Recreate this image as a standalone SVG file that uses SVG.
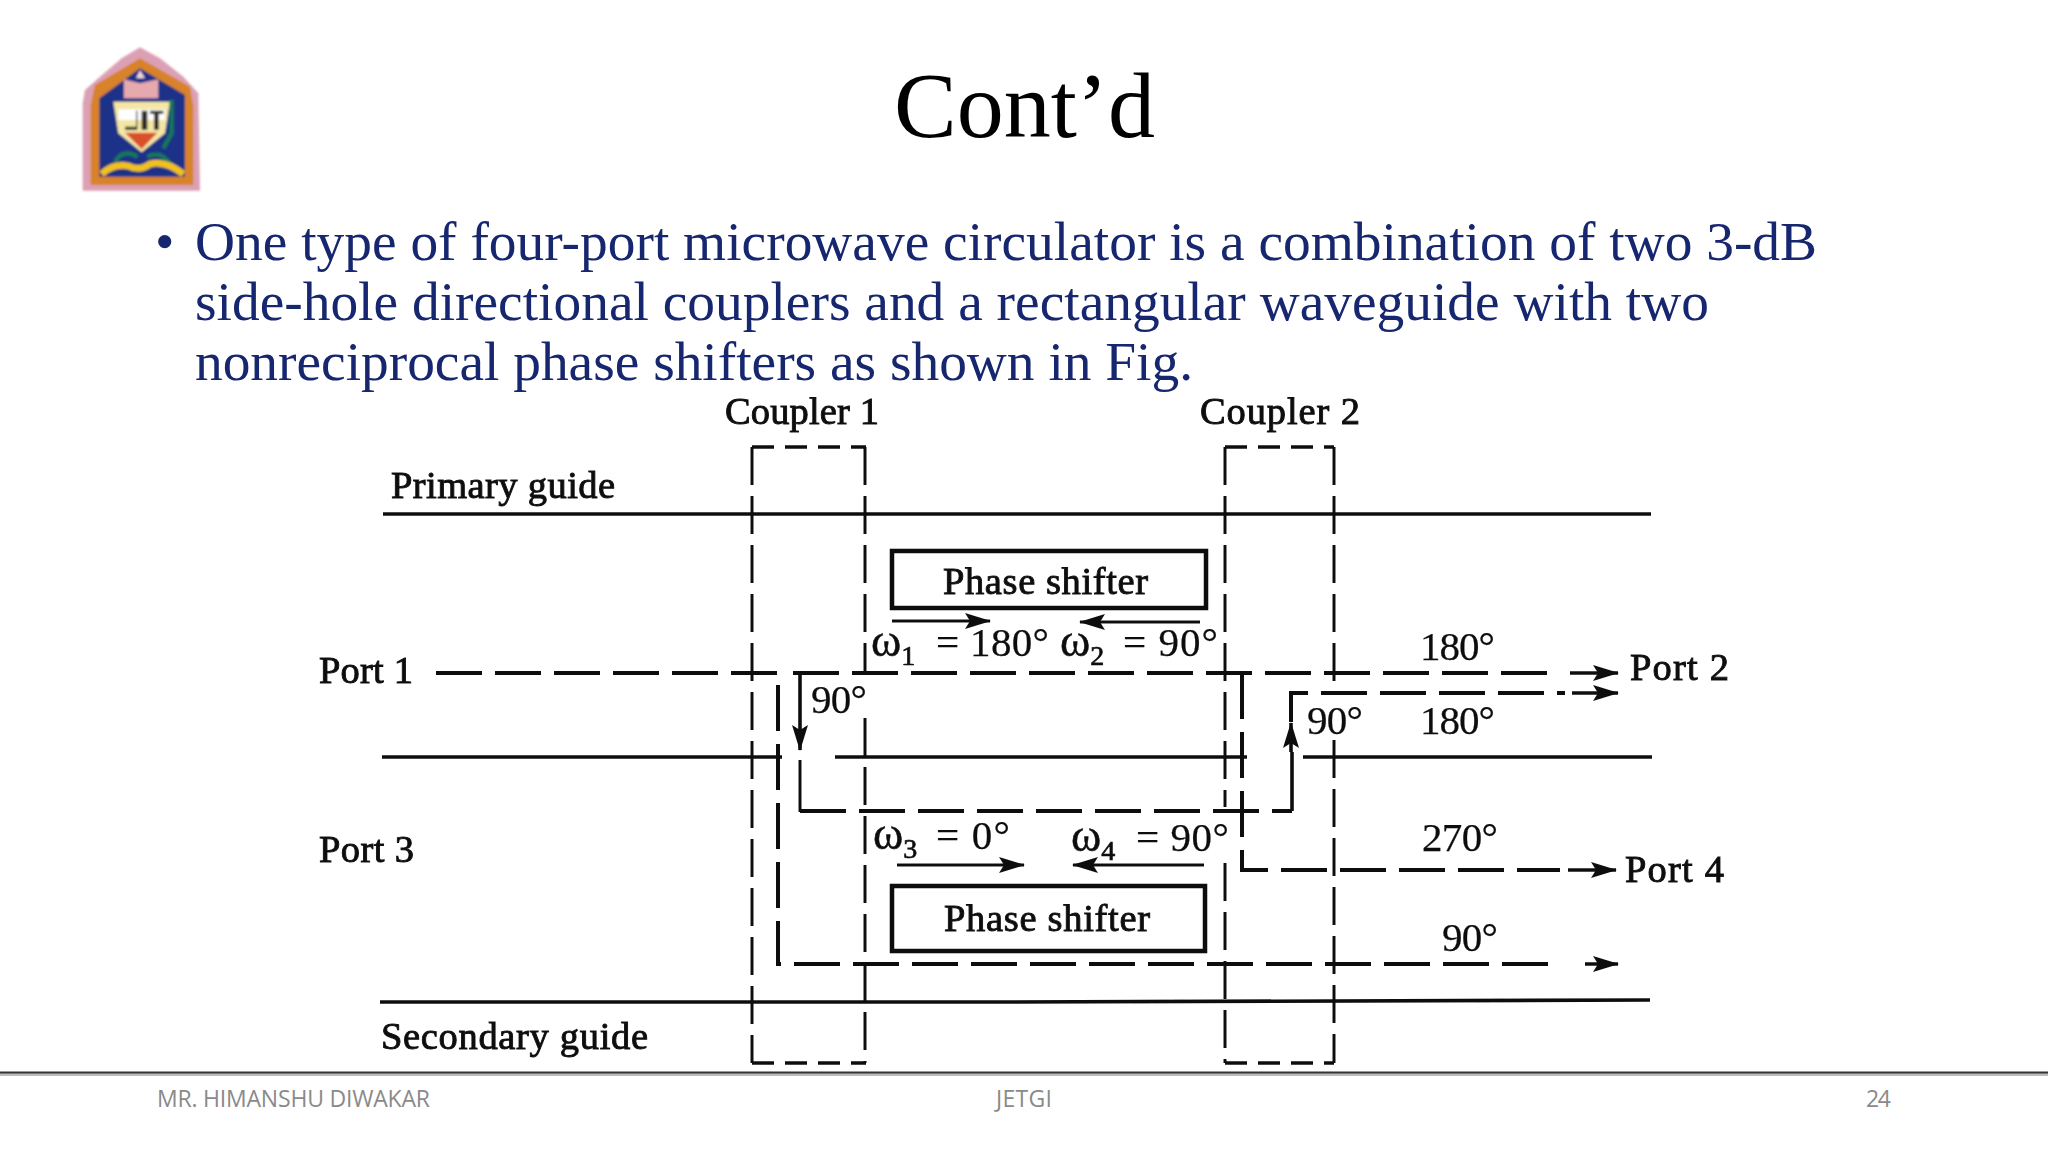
<svg xmlns="http://www.w3.org/2000/svg" width="2048" height="1152" viewBox="0 0 2048 1152">
<style>
.t{font-family:"Liberation Serif","Times New Roman",serif}
.title{font-size:94px;fill:#000}
.body{font-size:55.5px;fill:#16266f}
.lab{font-size:38.5px;fill:#111;stroke:#111;stroke-width:.9px}
.gr{font-size:41px;fill:#111;stroke:#111;stroke-width:.25px}
.om{font-size:46px;fill:#111;stroke:#111;stroke-width:.5px}
.sub{font-size:28px;fill:#111;stroke:#111;stroke-width:.7px}
.foot{font-family:"Open Sans","Liberation Sans",sans-serif;font-size:23px;fill:#8a8a8a}
.solid{fill:none;stroke:#111;stroke-width:3.6}
.thin{fill:none;stroke:#111;stroke-width:3}
.dash{fill:none;stroke:#111;stroke-width:4;stroke-dasharray:46 13}
.bv{fill:none;stroke:#111;stroke-width:3;stroke-dasharray:38 11}
.bh{fill:none;stroke:#111;stroke-width:3.4;stroke-dasharray:22 11}
.ps{fill:#fff;stroke:#111;stroke-width:4.5}
</style>
<defs>
<marker id="a" markerUnits="userSpaceOnUse" markerWidth="26" markerHeight="18" refX="25" refY="9" orient="auto"><path d="M0 1L26 9L0 17L5 9Z" fill="#111"/></marker>
<filter id="s" x="-5%" y="-5%" width="110%" height="110%"><feGaussianBlur stdDeviation="0.7"/></filter>
<filter id="b" x="-5%" y="-5%" width="110%" height="110%"><feGaussianBlur stdDeviation="3.2"/></filter>
</defs>
<rect width="2048" height="1152" fill="#fff"/>
<g id="logo" transform="translate(50 20) scale(.33333)" filter="url(#b)">
<path d="M98 512V250L105 210L150 170L215 115L270 82L330 115L400 170L445 220L450 512Z" fill="#dba0b4"/>
<path d="M122 495V255L135 195L270 115L420 200L430 260V495Z" fill="#d8822a"/>
<path d="M148 470V235L270 145L405 225V470Z" fill="#1c3088"/>
<path d="M222 178L270 190L325 178V235H222Z" fill="#e6a9ad"/>
<path d="M270 150L285 175H258Z" fill="#f2d6d6"/>
<path d="M190 245H360L345 340L275 397L205 340Z" fill="#f4e6a4"/>
<path d="M205 268H345V300H205Z" fill="#fff"/>
<path d="M238 272H258V320H225V330H262V272ZM275 272H292V330H275ZM300 272H340V282H326V330H312V282H300Z" fill="#2a2a2a"/>
<path d="M225 338H322L275 388Z" fill="#d9502a"/>
<path d="M195 425Q220 385 262 410M360 430Q330 390 292 410M365 240V340L340 385" fill="none" stroke="#127a55" stroke-width="12"/>
<path d="M155 462Q190 430 235 438Q270 455 300 432Q345 420 400 462" fill="none" stroke="#f2c11c" stroke-width="20"/>
</g>
<g id="title"><text class="t title" x="894" y="137">Cont’d</text></g>
<g id="bullets">
<text class="t body" x="155" y="260">•</text>
<text class="t body" x="195" y="260" textLength="1622" lengthAdjust="spacingAndGlyphs">One type of four-port microwave circulator is a combination of two 3-dB</text>
<text class="t body" x="195" y="320" textLength="1514" lengthAdjust="spacingAndGlyphs">side-hole directional couplers and a rectangular waveguide with two</text>
<text class="t body" x="195" y="380" textLength="998" lengthAdjust="spacingAndGlyphs">nonreciprocal phase shifters as shown in Fig.</text>
</g>
<g id="figure" filter="url(#s)">
<g id="connectors">
<path class="solid" d="M383 514H1651"/>
<path class="solid" d="M382 757H782M835 757H1247M1303 757H1652"/>
<path class="solid" d="M380 1002H1000L1650 1000"/>
<path class="thin" d="M892 621H990" marker-end="url(#a)"/>
<path class="thin" d="M1200 622H1080" marker-end="url(#a)"/>
<path class="thin" d="M897 865H1024" marker-end="url(#a)"/>
<path class="thin" d="M1204 865H1073" marker-end="url(#a)"/>
<path class="dash" d="M436 673H778V964H1550"/>
<path class="solid" d="M1585 964H1618" marker-end="url(#a)"/>
<path class="dash" d="M793 673H1550"/>
<path class="solid" d="M1570 673H1618" marker-end="url(#a)"/>
<path class="solid" d="M800 673V750" marker-end="url(#a)"/>
<path class="thin" d="M800 760V812"/>
<path class="dash" d="M800 811H1292"/>
<path class="solid" d="M1292 811V752"/>
<path class="solid" d="M1291 752V723" marker-end="url(#a)"/>
<path class="dash" d="M1291 722V693H1565"/>
<path class="solid" d="M1572 693H1618" marker-end="url(#a)"/>
<path class="dash" d="M1242 673V870H1560"/>
<path class="solid" d="M1568 870H1616" marker-end="url(#a)"/>
</g>
<g id="coupler1">
<path class="bh" d="M752 447H866M752 1063H866"/>
<path class="bv" d="M752 447V1063"/>
<path class="bv" d="M865 447V673M865 718V1063"/>
<text class="t lab" x="725" y="424" textLength="154">Coupler 1</text></g>
<g id="coupler2">
<path class="bh" d="M1225 447H1334M1225 1063H1334"/>
<path class="bv" d="M1225 447V807M1225 863V1063"/>
<path class="bv" d="M1334 447V690M1334 740V1063"/>
<text class="t lab" x="1200" y="424" textLength="160">Coupler 2</text></g>
<g id="phase1"><rect class="ps" x="892" y="551" width="314" height="57"/><text class="t lab" x="943" y="594" textLength="205">Phase shifter</text></g>
<g id="phase2"><rect class="ps" x="892" y="886" width="313" height="65"/><text class="t lab" x="944" y="931" textLength="206">Phase shifter</text></g>
<g id="labels">
<text class="t lab" x="391" y="498" textLength="224">Primary guide</text>
<text class="t lab" x="381" y="1049" textLength="267">Secondary guide</text>
<text class="t lab" x="319" y="683" textLength="94">Port 1</text>
<text class="t lab" x="319" y="862" textLength="95">Port 3</text>
<text class="t lab" x="1630" y="680" textLength="99">Port 2</text>
<text class="t lab" x="1625" y="882" textLength="99">Port 4</text>
<text class="t om" x="871" y="656">ω<tspan class="sub" dy="9">1</tspan></text>
<text class="t gr" x="936" y="656" textLength="113">= 180°</text>
<text class="t om" x="1060" y="656">ω<tspan class="sub" dy="9">2</tspan></text>
<text class="t gr" x="1123" y="656" textLength="95">= 90°</text>
<text class="t gr" x="811" y="713" textLength="56">90°</text>
<text class="t gr" x="1420" y="660" textLength="75">180°</text>
<text class="t gr" x="1307" y="734" textLength="56">90°</text>
<text class="t gr" x="1420" y="734" textLength="75">180°</text>
<text class="t om" x="873" y="849">ω<tspan class="sub" dy="9">3</tspan></text>
<text class="t gr" x="936" y="849" textLength="74">= 0°</text>
<text class="t om" x="1071" y="851">ω<tspan class="sub" dy="9">4</tspan></text>
<text class="t gr" x="1136" y="851" textLength="93">= 90°</text>
<text class="t gr" x="1422" y="851" textLength="76">270°</text>
<text class="t gr" x="1442" y="951" textLength="56">90°</text>
</g>
</g>
<g id="footer">
<path d="M0 1074.5H2048" stroke="#bbb" stroke-width="3"/>
<path d="M0 1072.5H2048" stroke="#333" stroke-width="2"/>
<text class="foot" x="157" y="1107" textLength="273">MR. HIMANSHU DIWAKAR</text>
<text class="foot" x="996" y="1107" textLength="56">JETGI</text>
<text class="foot" x="1866" y="1107" textLength="25">24</text>
</g>
</svg>
